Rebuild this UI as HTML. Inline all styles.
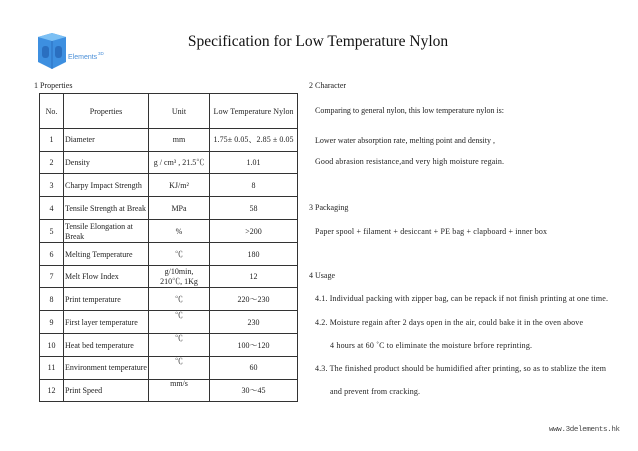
<!DOCTYPE html>
<html><head><meta charset="utf-8"><style>
html,body{margin:0;padding:0;background:#fff;}
svg{display:block;}
text{font-family:"Liberation Serif","Noto Serif CJK SC",serif;fill:#222;font-size:8px;}
</style></head><body>
<svg width="638" height="451" viewBox="0 0 638 451" xmlns="http://www.w3.org/2000/svg">
<g>
<path d="M38 37 L52 33 L66 37 L66 62 L52 69 L38 62 Z" fill="#3d8fe0"/>
<path d="M38 37 L52 41 L66 37 L52 33 Z" fill="#7cc0f4"/>
<path d="M52 41 L52 69" stroke="#2a6fc0" stroke-width="1"/>
<rect x="42" y="46" width="7" height="12" rx="3" fill="#2a6fc0"/>
<rect x="55" y="46" width="7" height="12" rx="3" fill="#2a6fc0"/>
<text x="68" y="59" style="font-family:'Liberation Sans',sans-serif;font-size:7px;fill:#4a8fd8">Elements</text>
<text x="98" y="55" style="font-family:'Liberation Sans',sans-serif;font-size:4.5px;fill:#4a8fd8">3D</text>
</g>
<text x="318" y="46" text-anchor="middle" style="font-size:15.5px;fill:#111">Specification for Low Temperature Nylon</text>
<text x="34" y="88">1 Properties</text>
<g stroke="#333" stroke-width="1" fill="none">
<rect x="39.5" y="93.5" width="258" height="308"/>
<line x1="63.5" y1="93" x2="63.5" y2="402"/>
<line x1="148.5" y1="93" x2="148.5" y2="402"/>
<line x1="209.5" y1="93" x2="209.5" y2="402"/>
<line x1="39" y1="128.5" x2="298" y2="128.5"/>
<line x1="39" y1="151.5" x2="298" y2="151.5"/>
<line x1="39" y1="173.5" x2="298" y2="173.5"/>
<line x1="39" y1="196.5" x2="298" y2="196.5"/>
<line x1="39" y1="219.5" x2="298" y2="219.5"/>
<line x1="39" y1="242.5" x2="298" y2="242.5"/>
<line x1="39" y1="265.5" x2="298" y2="265.5"/>
<line x1="39" y1="287.5" x2="298" y2="287.5"/>
<line x1="39" y1="310.5" x2="298" y2="310.5"/>
<line x1="39" y1="333.5" x2="298" y2="333.5"/>
<line x1="39" y1="356.5" x2="298" y2="356.5"/>
<line x1="39" y1="379.5" x2="298" y2="379.5"/>
</g>
<g text-anchor="middle">
<text x="51.5" y="114">No.</text><text x="106" y="114">Properties</text><text x="179" y="114">Unit</text><text x="253.5" y="114" textLength="80">Low Temperature Nylon</text>
<text x="51.5" y="142">1</text><text x="179" y="142">mm</text><text x="253.5" y="142" textLength="80">1.75± 0.05、2.85 ± 0.05</text>
<text x="51.5" y="165">2</text><text x="179" y="165">g / cm³ , 21.5℃</text><text x="253.5" y="165">1.01</text>
<text x="51.5" y="188">3</text><text x="179" y="188">KJ/m²</text><text x="253.5" y="188">8</text>
<text x="51.5" y="211">4</text><text x="179" y="211">MPa</text><text x="253.5" y="211">58</text>
<text x="51.5" y="234">5</text><text x="179" y="234">%</text><text x="253.5" y="234">&gt;200</text>
<text x="51.5" y="257">6</text><text x="179" y="257">℃</text><text x="253.5" y="257">180</text>
<text x="51.5" y="279">7</text><text x="179" y="274">g/10min,</text><text x="179" y="284">210℃, 1Kg</text><text x="253.5" y="279">12</text>
<text x="51.5" y="302">8</text><text x="179" y="302">℃</text><text x="253.5" y="302">220～230</text>
<text x="51.5" y="325">9</text><text x="179" y="318">℃</text><text x="253.5" y="325">230</text>
<text x="51.5" y="348">10</text><text x="179" y="341">℃</text><text x="253.5" y="348">100～120</text>
<text x="51.5" y="370">11</text><text x="179" y="364">℃</text><text x="253.5" y="370">60</text>
<text x="51.5" y="393">12</text><text x="179" y="386">mm/s</text><text x="253.5" y="393">30～45</text>
</g>
<g>
<text x="65" y="142">Diameter</text>
<text x="65" y="165">Density</text>
<text x="65" y="188">Charpy Impact Strength</text>
<text x="65" y="211">Tensile Strength at Break</text>
<text x="65" y="229">Tensile Elongation at</text><text x="65" y="239">Break</text>
<text x="65" y="257">Melting Temperature</text>
<text x="65" y="279">Melt Flow Index</text>
<text x="65" y="302">Print temperature</text>
<text x="65" y="325">First layer temperature</text>
<text x="65" y="348">Heat bed temperature</text>
<text x="65" y="370">Environment temperature</text>
<text x="65" y="393">Print Speed</text>
</g>
<text x="309" y="88">2 Character</text>
<text x="315" y="113" textLength="189">Comparing to general nylon, this low temperature nylon is:</text>
<text x="315" y="143" textLength="180">Lower water absorption rate, melting point and density ,</text>
<text x="315" y="164" textLength="189">Good abrasion resistance,and very high moisture regain.</text>
<text x="309" y="210">3 Packaging</text>
<text x="315" y="234" textLength="232">Paper spool + filament + desiccant + PE bag + clapboard + inner box</text>
<text x="309" y="278">4 Usage</text>
<text x="315" y="301" textLength="293">4.1. Individual packing with zipper bag, can be repack if not finish printing at one time.</text>
<text x="315" y="325" textLength="268">4.2. Moisture regain after 2 days open in the air, could bake it in the oven above</text>
<text x="330" y="348" textLength="202">4 hours at 60 ˚C to eliminate the moisture brfore reprinting.</text>
<text x="315" y="371" textLength="291">4.3. The finished product should be humidified after printing, so as to stablize the item</text>
<text x="330" y="394" textLength="90">and prevent from cracking.</text>
<text x="549" y="431" style="font-family:'Liberation Mono',monospace;font-size:7.5px;fill:#444" textLength="71">www.3delements.hk</text>
</svg>
</body></html>
